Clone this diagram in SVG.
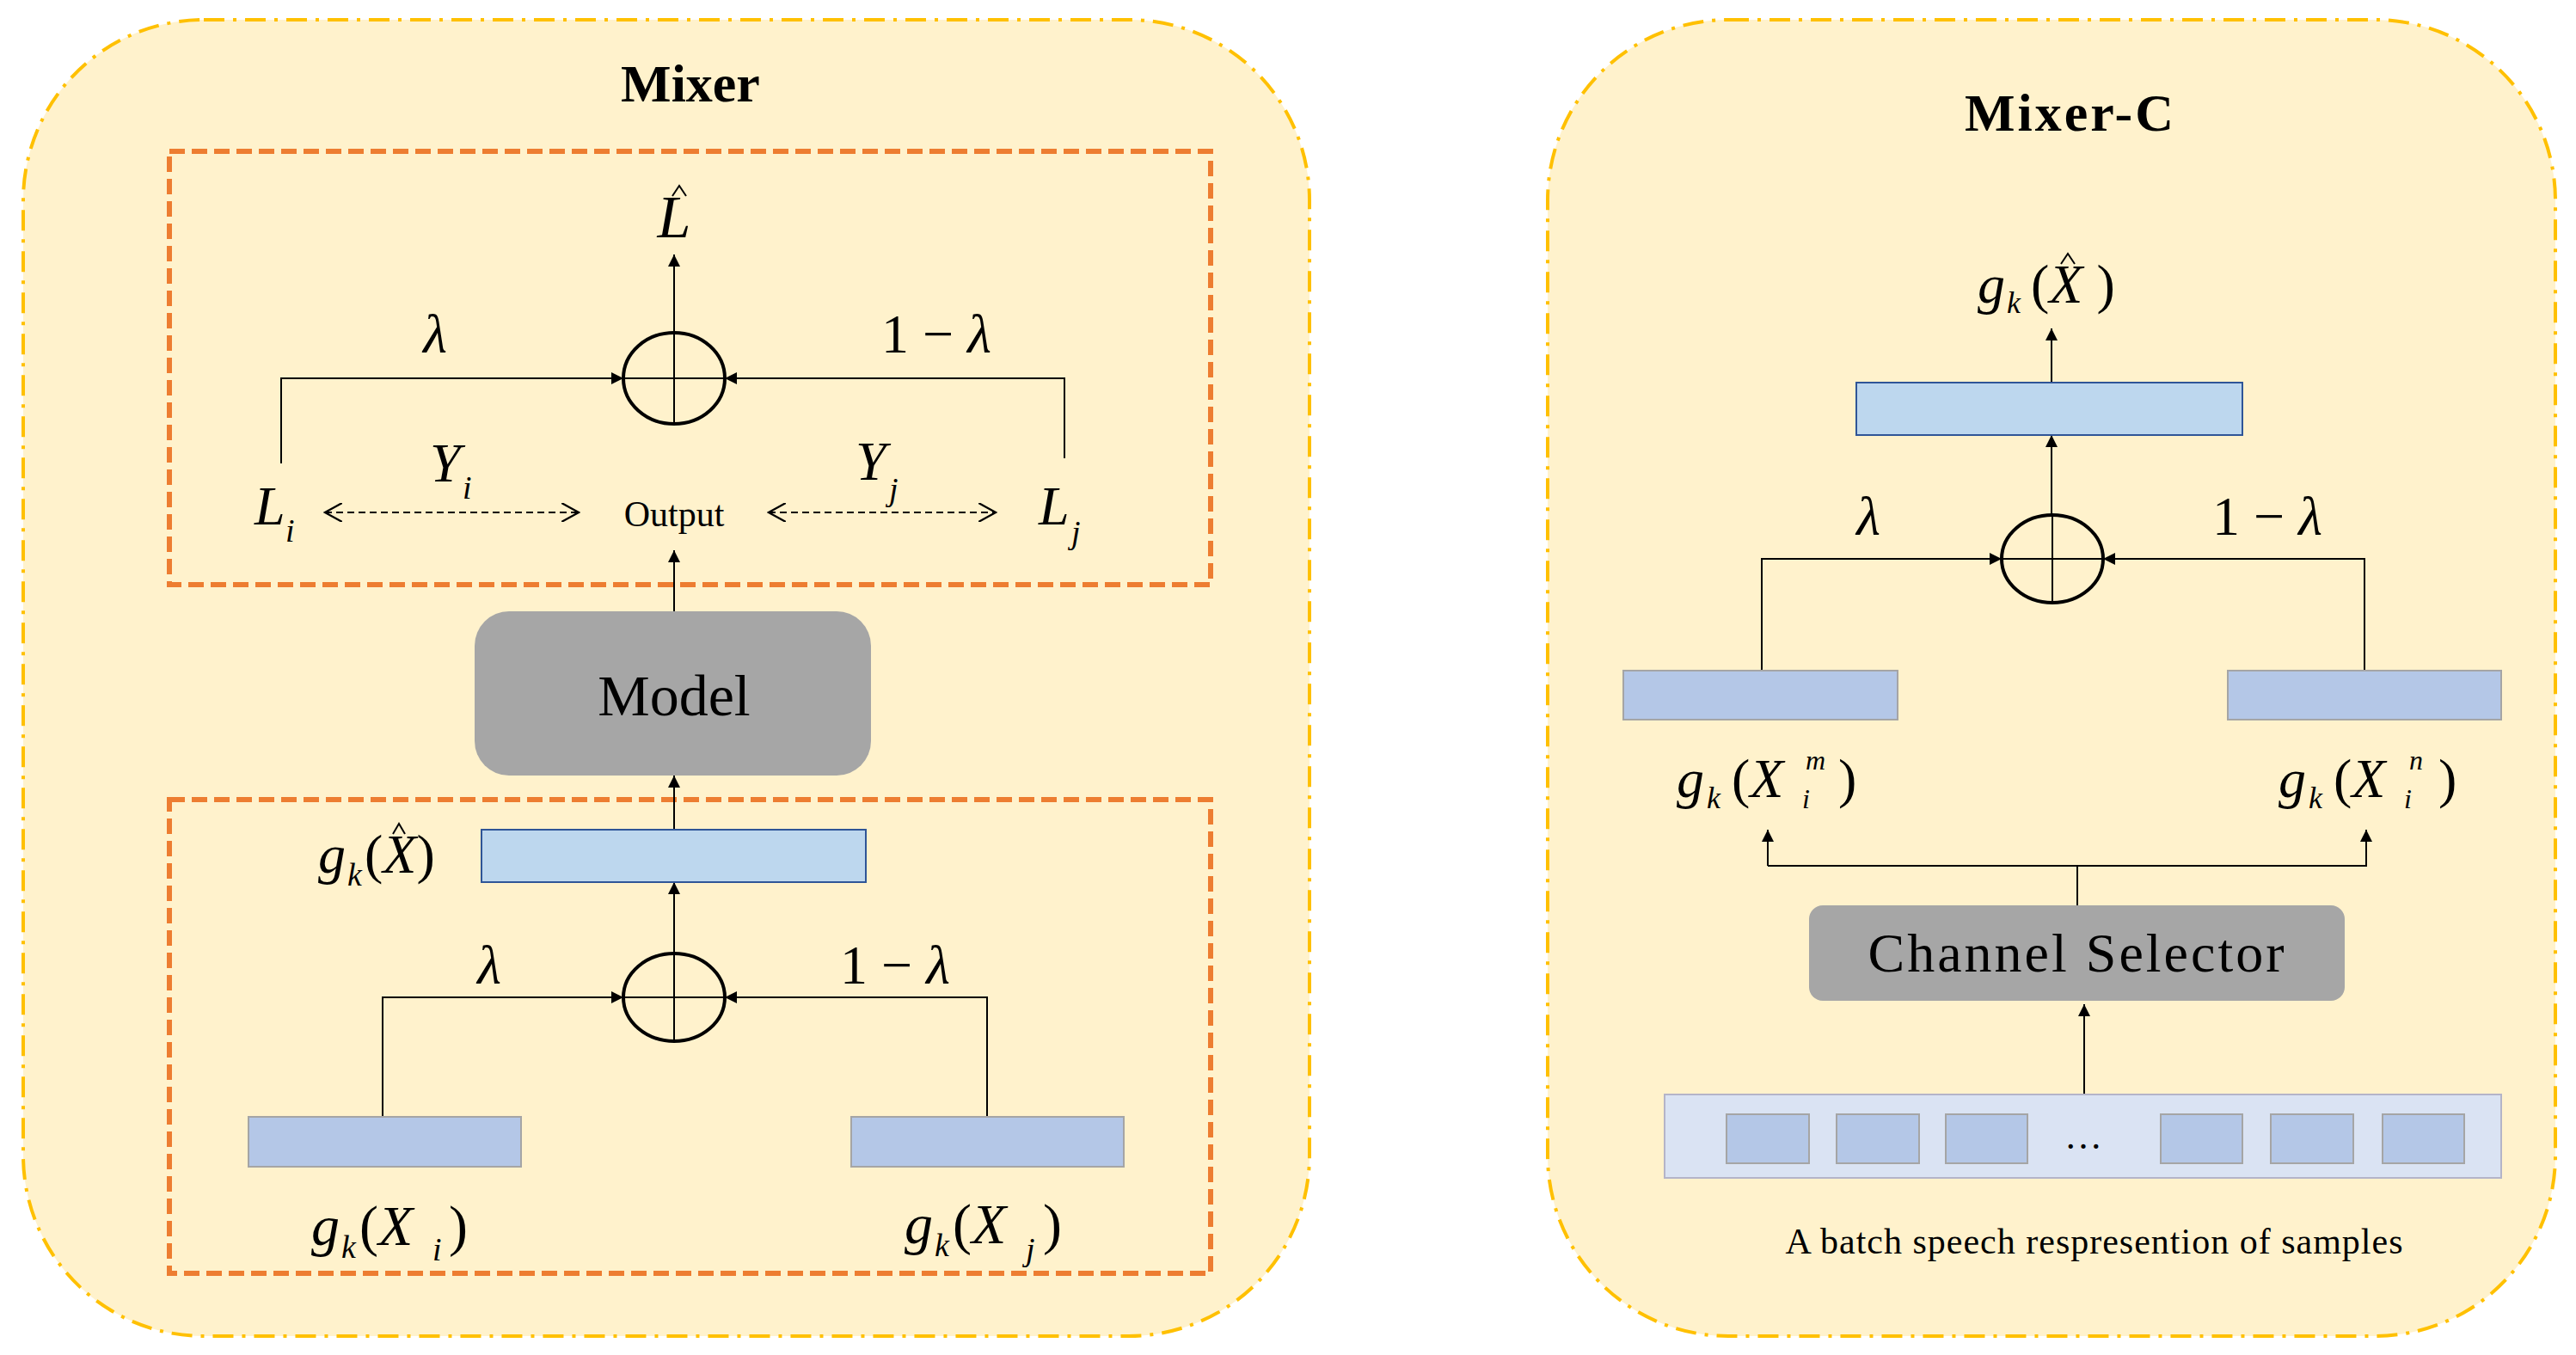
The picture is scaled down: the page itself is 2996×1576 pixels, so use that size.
<svg xmlns="http://www.w3.org/2000/svg" width="2996" height="1576" viewBox="0 0 2996 1576">
<defs>
<marker id="ah" viewBox="0 0 10 10" refX="10" refY="5" markerWidth="14" markerHeight="14" markerUnits="userSpaceOnUse" orient="auto"><path d="M0,0 L10,5 L0,10 z" fill="#000"/></marker>
<marker id="oa" viewBox="0 0 10 10" refX="9" refY="5" markerWidth="22" markerHeight="22" markerUnits="userSpaceOnUse" orient="auto-start-reverse"><path d="M0,0 L9,5 L0,10" fill="none" stroke="#000" stroke-width="1"/></marker>
<style>
.panel{fill:#fff2cc;stroke:#ffc000;stroke-width:4;stroke-dasharray:24 10 4 10}
.od{fill:none;stroke:#ed7d31;stroke-width:6;stroke-dasharray:18 8}
.ln{fill:none;stroke:#000;stroke-width:2}
.ar{fill:none;stroke:#000;stroke-width:2;marker-end:url(#ah)}
.dash{fill:none;stroke:#000;stroke-width:2;stroke-dasharray:8 5;marker-start:url(#oa);marker-end:url(#oa)}
.circ{fill:none;stroke:#000;stroke-width:4}
.bb{fill:#bdd7ee;stroke:#2f5597;stroke-width:2}
.gb{fill:#b4c7e7;stroke:#a5a5a5;stroke-width:2}
.gray{fill:#a6a6a6}
.m{font-family:"Liberation Serif",serif;font-style:italic;fill:#000}
.r{font-family:"Liberation Serif",serif;fill:#000}
.t{font-family:"Liberation Serif",serif;font-weight:bold;fill:#000;text-anchor:middle}
</style>
</defs>
<g id="panel-mixer"><rect class="panel" x="27" y="23" width="1496" height="1531" rx="210"/><text class="t" x="803" y="118" font-size="62">Mixer</text></g>
<g id="panel-mixerc"><rect class="panel" x="1800" y="23" width="1172" height="1531" rx="210"/><text class="t" x="2408" y="152" font-size="62" letter-spacing="3">Mixer-C</text></g>
<g id="box-top"><rect class="od" x="197" y="176" width="1211" height="504"/></g>
<g id="box-bottom"><rect class="od" x="197" y="930" width="1211" height="551"/></g>

<g id="connectors">
<path class="ar" d="M784,387 V296"/>
<path class="ar" d="M327,539 V440 H725"/>
<path class="ar" d="M1238,533 V440 H843"/>
<path class="dash" d="M378,596 H673"/>
<path class="dash" d="M894,596 H1158"/>
<path class="ar" d="M784,711 V640"/>
<path class="ar" d="M784,965 V902"/>
<path class="ar" d="M784,1109 V1026"/>
<path class="ar" d="M445,1299 V1160 H725"/>
<path class="ar" d="M1148,1299 V1160 H843"/>
<path class="ar" d="M2386,445 V382"/>
<path class="ar" d="M2386,599 V506"/>
<path class="ar" d="M2049,780 V650 H2328"/>
<path class="ar" d="M2750,780 V650 H2446"/>
<path class="ln" d="M2416,1053 V1007"/>
<path class="ar" d="M2056,1007 V965"/>
<path class="ar" d="M2056,1007 H2752 V965"/>
<path class="ar" d="M2424,1273 V1168"/>
</g>

<g id="sum-top"><ellipse class="circ" cx="784" cy="440" rx="59" ry="53"/><path class="ln" d="M725,440 H843 M784,387 V493"/></g>
<g id="sum-bottom"><ellipse class="circ" cx="784" cy="1160" rx="59" ry="51"/><path class="ln" d="M725,1160 H843 M784,1109 V1211"/></g>
<g id="sum-right"><ellipse class="circ" cx="2387" cy="650" rx="59" ry="51"/><path class="ln" d="M2328,650 H2446 M2387,599 V701"/></g>

<g id="labels-top">
<text class="m" x="784" y="276" font-size="70" text-anchor="middle">L</text>
<path class="ln" d="M782,228 L790,216 L798,228" stroke-width="3"/>
<text class="m" x="506" y="410" font-size="64" text-anchor="middle">λ</text>
<text class="r" x="1089" y="410" font-size="64" text-anchor="middle">1 − <tspan font-style="italic">λ</tspan></text>
<text class="m" x="296" y="610" font-size="64">L</text><text class="m" x="332" y="630" font-size="38">i</text>
<text class="m" x="500" y="560" font-size="64">Y</text><text class="m" x="538" y="580" font-size="38">i</text>
<text class="r" x="784" y="612" font-size="42" text-anchor="middle">Output</text>
<text class="m" x="995" y="558" font-size="64">Y</text><text class="m" x="1034" y="582" font-size="38">j</text>
<text class="m" x="1208" y="610" font-size="64">L</text><text class="m" x="1246" y="632" font-size="38">j</text>
</g>
<g id="model"><rect class="gray" x="552" y="711" width="461" height="191" rx="40"/><text class="r" x="784" y="832" font-size="68" text-anchor="middle">Model</text></g>
<g id="mix-out"><rect class="bb" x="560" y="965" width="447" height="61"/>
<text class="m" x="370" y="1015" font-size="64">g</text><text class="m" x="404" y="1030" font-size="38">k</text>
<text class="r" x="424" y="1015" font-size="64">(<tspan font-style="italic">X</tspan>)</text>
<path class="ln" d="M457,970 L464,958 L471,970" stroke-width="3"/></g>
<g id="labels-bottom">
<text class="m" x="569" y="1144" font-size="64" text-anchor="middle">λ</text>
<text class="r" x="1041" y="1144" font-size="64" text-anchor="middle">1 − <tspan font-style="italic">λ</tspan></text>
</g>
<g id="xi"><rect class="gb" x="289" y="1299" width="317" height="58"/>
<text class="m" x="362" y="1448" font-size="66">g</text><text class="m" x="397" y="1463" font-size="38">k</text>
<text class="r" x="418" y="1448" font-size="66">(<tspan font-style="italic">X</tspan></text><text class="m" x="503" y="1466" font-size="38">i</text><text class="r" x="522" y="1448" font-size="66">)</text></g>
<g id="xj"><rect class="gb" x="990" y="1299" width="317" height="58"/>
<text class="m" x="1052" y="1446" font-size="66">g</text><text class="m" x="1087" y="1461" font-size="38">k</text>
<text class="r" x="1108" y="1446" font-size="66">(<tspan font-style="italic">X</tspan></text><text class="m" x="1193" y="1466" font-size="38">j</text><text class="r" x="1213" y="1446" font-size="66">)</text></g>

<g id="c-out"><rect class="bb" x="2159" y="445" width="449" height="61"/>
<text class="m" x="2300" y="352" font-size="64">g</text><text class="m" x="2334" y="364" font-size="36">k</text>
<text class="r" x="2362" y="352" font-size="64">(<tspan font-style="italic">X</tspan> )</text>
<path class="ln" d="M2397,307 L2405,295 L2413,307" stroke-width="3"/></g>
<g id="c-labels">
<text class="m" x="2173" y="622" font-size="64" text-anchor="middle">λ</text>
<text class="r" x="2637" y="622" font-size="64" text-anchor="middle">1 − <tspan font-style="italic">λ</tspan></text>
</g>
<g id="c-m"><rect class="gb" x="1888" y="780" width="319" height="57"/>
<text class="m" x="1950" y="927" font-size="64">g</text><text class="m" x="1985" y="940" font-size="36">k</text>
<text class="r" x="2014" y="927" font-size="64">(<tspan font-style="italic">X</tspan></text><text class="m" x="2096" y="940" font-size="32">i</text><text class="m" x="2100" y="895" font-size="32">m</text><text class="r" x="2138" y="927" font-size="64">)</text></g>
<g id="c-n"><rect class="gb" x="2591" y="780" width="318" height="57"/>
<text class="m" x="2650" y="927" font-size="64">g</text><text class="m" x="2685" y="940" font-size="36">k</text>
<text class="r" x="2714" y="927" font-size="64">(<tspan font-style="italic">X</tspan></text><text class="m" x="2796" y="940" font-size="32">i</text><text class="m" x="2802" y="895" font-size="32">n</text><text class="r" x="2836" y="927" font-size="64">)</text></g>
<g id="channel-selector"><rect class="gray" x="2104" y="1053" width="623" height="111" rx="16"/><text class="r" x="2416" y="1130" font-size="64" text-anchor="middle" letter-spacing="3">Channel Selector</text></g>
<g id="batch"><rect x="1936" y="1273" width="973" height="97" fill="#dae3f3" stroke="#b4b4c8" stroke-width="2"/>
<rect class="gb" x="2008" y="1296" width="96" height="57"/><rect class="gb" x="2136" y="1296" width="96" height="57"/><rect class="gb" x="2263" y="1296" width="95" height="57"/><rect class="gb" x="2513" y="1296" width="95" height="57"/><rect class="gb" x="2641" y="1296" width="96" height="57"/><rect class="gb" x="2771" y="1296" width="95" height="57"/>
<text class="r" x="2423" y="1336" font-size="44" text-anchor="middle">…</text>
<text class="r" x="2436" y="1458" font-size="42" text-anchor="middle" letter-spacing="1">A batch speech respresention of samples</text></g>
</svg>
